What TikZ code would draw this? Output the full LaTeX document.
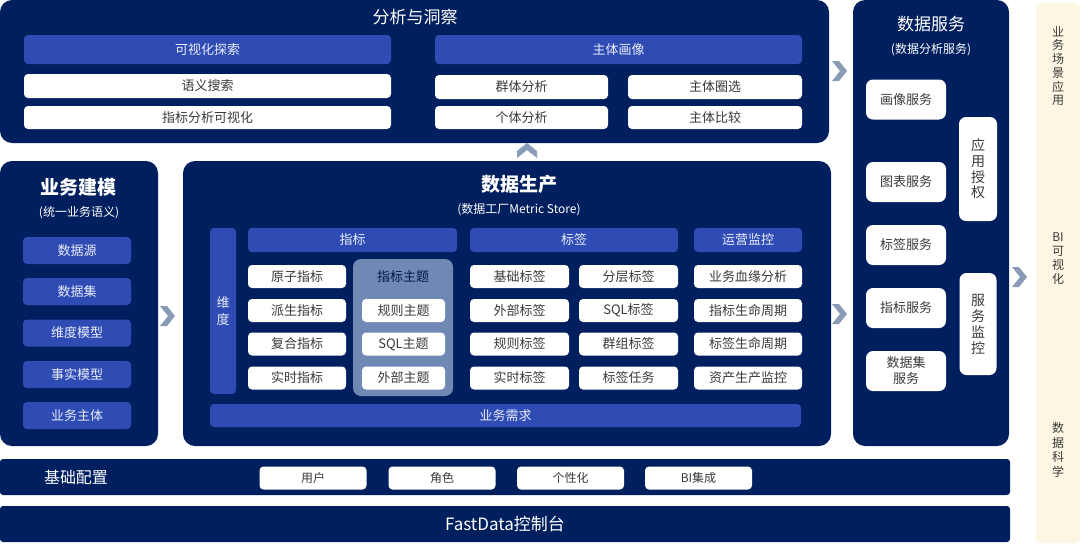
\documentclass[tikz,border=0pt]{standalone}
\usepackage{fontspec}
\setmainfont{Noto Sans CJK SC}
\usepackage{tikz}

\definecolor{navy}{HTML}{001F5E}
\definecolor{midblue}{HTML}{2E4CB4}
\definecolor{greyblue}{HTML}{7089B4}
\definecolor{chevgrey}{HTML}{8A9BB8}
\definecolor{beige}{HTML}{FDF6E3}
\definecolor{boxtext}{HTML}{3A3A3A}

\tikzset{
  panel/.style={fill=navy, rounded corners=12pt, inner sep=0pt},
  bluebar/.style={fill=midblue, rounded corners=4pt, inner sep=0pt, text=white!90!midblue, font=\fontsize{13}{15}\selectfont},
  whitebox/.style={fill=white, rounded corners=4pt, inner sep=0pt, text=boxtext, font=\fontsize{13}{15}\selectfont},
  svcbox/.style={fill=white, rounded corners=7pt, inner sep=0pt, text=boxtext, align=center, font=\fontsize{13}{16}\selectfont},
  paneltitle/.style={text=white, font=\fontsize{17}{19}\selectfont},
  panelsub/.style={text=white, font=\fontsize{12}{14}\selectfont},
  chevron/.pic={\fill[chevgrey] (-7,-10) -- (0,-10) -- (8,0) -- (0,10) -- (-7,10) -- (1,0) -- cycle;}
}

\begin{document}
\begin{tikzpicture}[x=1pt,y=-1pt]
    \useasboundingbox (0,0) rectangle (1080,547);
    % Analysis panel
    \node[panel, minimum width=829, minimum height=143] (analysis) at (414.5,71.5) {};
    \node[paneltitle] (analysistitle) at (415,17) {分析与洞察};
    \node[bluebar, minimum width=367, minimum height=29] (explore) at (207.5,49.5) {可视化探索};
    \node[whitebox, minimum width=367, minimum height=24] (search) at (207.5,86) {语义搜索};
    \node[whitebox, minimum width=367, minimum height=23] (metricvis) at (207.5,117.5) {指标分析可视化};
    \node[bluebar, minimum width=367, minimum height=29] (portrait) at (618.5,49.5) {主体画像};
    \node[whitebox, minimum width=173, minimum height=24] (group) at (521.5,87) {群体分析};
    \node[whitebox, minimum width=174, minimum height=24] (circle) at (715,87) {主体圈选};
    \node[whitebox, minimum width=173, minimum height=23] (single) at (521.5,117.5) {个体分析};
    \node[whitebox, minimum width=174, minimum height=23] (compare) at (715,117.5) {主体比较};

    % Modeling panel
    \node[panel, minimum width=158, minimum height=285] (modeling) at (79,303.5) {};
    \node[paneltitle, font=\fontsize{19}{21}\selectfont\bfseries] (modelingtitle) at (79,187) {业务建模};
    \node[panelsub] (modelingsub) at (79,213) {(统一业务语义)};
    \foreach \y/\t [count=\i] in {250.5/数据源, 291.5/数据集, 333/维度模型, 374.5/事实模型, 415.5/业务主体} {%
        \node[bluebar, minimum width=108, minimum height=27] (model\i) at (77,\y) {\t};
    }

    % Production panel
    \node[panel, minimum width=648, minimum height=285] (production) at (507,303.5) {};
    \node[paneltitle, font=\fontsize{19}{21}\selectfont\bfseries] (productiontitle) at (519,184) {数据生产};
    \node[panelsub] (productionsub) at (519,210) {(数据工厂Metric Store)};
    \node[bluebar, minimum width=26, minimum height=166, align=center, font=\fontsize{13}{17}\selectfont] (dimension) at (223,311) {维\\度};
    \node[bluebar, minimum width=209, minimum height=24] (metric) at (352.5,240) {指标};
    \node[bluebar, minimum width=208, minimum height=24] (tag) at (574,240) {标签};
    \node[bluebar, minimum width=108, minimum height=24] (operate) at (748,240) {运营监控};
    \node[fill=greyblue, rounded corners=8pt, minimum width=100, minimum height=137] (theme) at (403,327.5) {};
    \node[text=navy!80!black, font=\fontsize{13}{15}\selectfont] (themetitle) at (403,277) {指标主题};
    % Rows
    \foreach \y/\a/\b/\c/\d/\e [count=\i] in {276.5/原子指标//基础标签/分层标签/业务血缘分析,
        310.5/派生指标/规则主题/外部标签/SQL标签/指标生命周期,
        344/复合指标/SQL主题/规则标签/群组标签/标签生命周期,
        378/实时指标/外部主题/实时标签/标签任务/资产生产监控} {%
        \node[whitebox, minimum width=98, minimum height=23] (metric\i) at (297,\y) {\a};
        \ifnum\i>1
            \node[whitebox, minimum width=83, minimum height=23] (theme\i) at (403.5,\y) {\b};
        \fi
        \node[whitebox, minimum width=99, minimum height=23] (tagA\i) at (519.5,\y) {\c};
        \node[whitebox, minimum width=99, minimum height=23] (tagB\i) at (628.5,\y) {\d};
        \node[whitebox, minimum width=108, minimum height=23] (operate\i) at (748,\y) {\e};
    }
    \node[bluebar, minimum width=591, minimum height=23] (demand) at (505.5,415.5) {业务需求};

    % Service panel
    \node[panel, minimum width=156, minimum height=446] (service) at (931,223) {};
    \node[paneltitle] (servicetitle) at (931,24) {数据服务};
    \node[panelsub] (servicesub) at (931,50) {(数据分析服务)};
    \foreach \y/\t [count=\i] in {99.5/画像服务, 182/图表服务, 245/标签服务, 308/指标服务, 371/数据集\\服务} {%
        \node[svcbox, minimum width=80, minimum height=40] (svc\i) at (906,\y) {\t};
    }
    \node[svcbox, minimum width=38, minimum height=104, font=\fontsize{14}{15.7}\selectfont] (auth) at (978,169) {应\\用\\授\\权};
    \node[svcbox, minimum width=37, minimum height=102, font=\fontsize{14}{16}\selectfont] (monitor) at (978,324) {服\\务\\监\\控};

    % Base bars
    \node[fill=navy, rounded corners=3pt, minimum width=1010, minimum height=36] (base) at (505,477) {};
    \node[text=white, font=\fontsize{16}{18}\selectfont] (basetitle) at (76,477) {基础配置};
    \foreach \x/\t [count=\i] in {313/用户, 442/角色, 570.5/个性化, 698.5/BI集成} {%
        \node[whitebox, minimum width=107, minimum height=23, font=\fontsize{12}{14}\selectfont] (base\i) at (\x,478) {\t};
    }
    \node[fill=navy, rounded corners=3pt, minimum width=1010, minimum height=36, text=white, font=\fontsize{17}{19}\selectfont] (console) at (505,524) {FastData控制台};

    % Scenario column
    \node[fill=beige, rounded corners=5pt, minimum width=44, minimum height=540] (scenario) at (1058,273) {};
    \node[text=boxtext, align=center, font=\fontsize{12}{13.7}\selectfont] (app) at (1058,66) {业\\务\\场\\景\\应\\用};
    \node[text=boxtext, align=center, font=\fontsize{12}{14}\selectfont] (bi) at (1058,259) {BI\\可\\视\\化};
    \node[text=boxtext, align=center, font=\fontsize{12}{14.5}\selectfont] (science) at (1058,450) {数\\据\\科\\学};

    % Chevrons
    \pic at (167,316) {chevron};
    \pic at (839,71) {chevron};
    \pic at (839,314) {chevron};
    \pic at (1019,277) {chevron};
    \pic[rotate=90] at (527,151) {chevron};
\end{tikzpicture}
\end{document}
